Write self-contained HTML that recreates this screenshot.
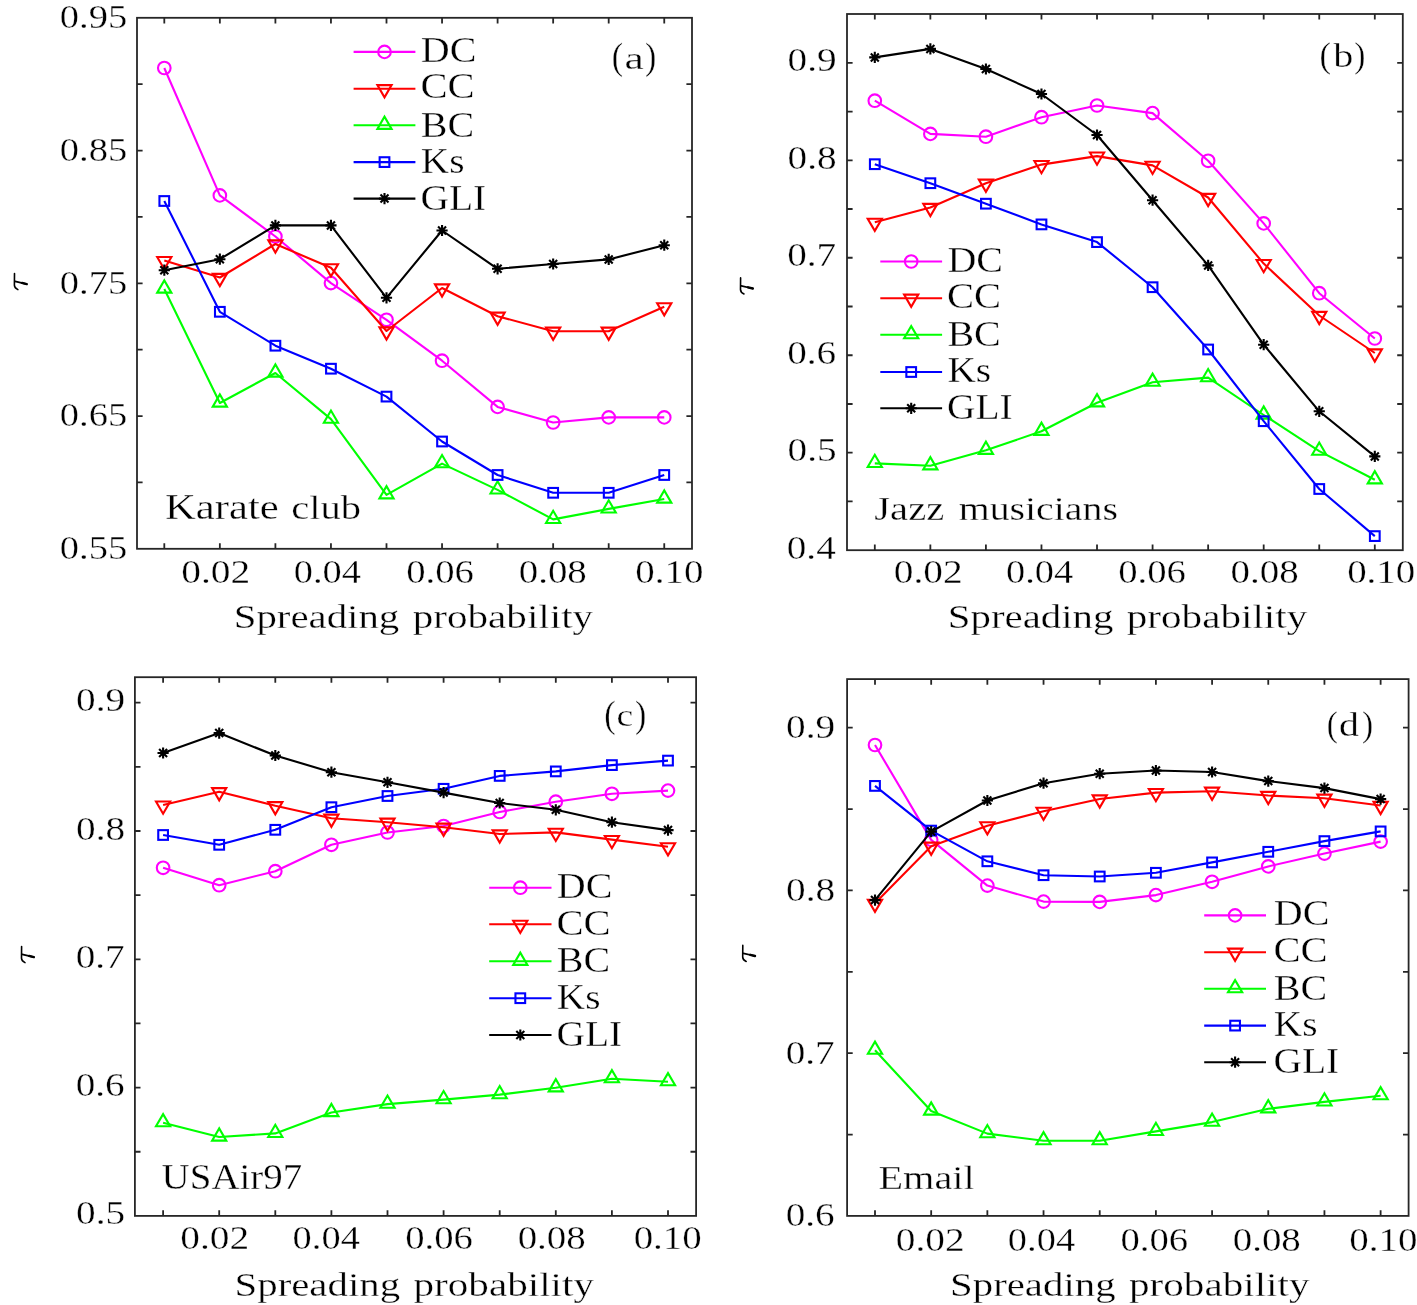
<!DOCTYPE html><html><head><meta charset="utf-8"><title>Spreading probability</title><style>html,body{margin:0;padding:0;background:#fff;}svg{display:block;will-change:transform;}text{font-family:"Liberation Serif",serif;}</style></head><body><svg width="1417" height="1305" viewBox="0 0 1417 1305" font-family="Liberation Serif, serif" fill="#000"><rect x="137" y="17.8" width="555" height="531" fill="none" stroke="#262626" stroke-width="1.8"/>
<path d="M164.3,548.8V543.2M164.3,17.8V23.4M219.85,548.8V543.2M219.85,17.8V23.4M275.4,548.8V543.2M275.4,17.8V23.4M330.95,548.8V543.2M330.95,17.8V23.4M386.5,548.8V543.2M386.5,17.8V23.4M442.05,548.8V543.2M442.05,17.8V23.4M497.6,548.8V543.2M497.6,17.8V23.4M553.15,548.8V543.2M553.15,17.8V23.4M608.7,548.8V543.2M608.7,17.8V23.4M664.25,548.8V543.2M664.25,17.8V23.4M137,482.42H142.6M692,482.42H686.4M137,416.05H142.6M692,416.05H686.4M137,349.67H142.6M692,349.67H686.4M137,283.3H142.6M692,283.3H686.4M137,216.92H142.6M692,216.92H686.4M137,150.55H142.6M692,150.55H686.4M137,84.17H142.6M692,84.17H686.4" stroke="#262626" stroke-width="1.8" fill="none"/>
<polyline points="164.3,68 219.85,195.4 275.4,236.5 330.95,283.1 386.5,319.8 442.05,360.7 497.6,406.9 553.15,422.5 608.7,417.4 664.25,417.4" fill="none" stroke="#ff00ff" stroke-width="2.1" stroke-linejoin="round"/>
<g fill="none" stroke="#ff00ff" stroke-width="2.1" stroke-linejoin="miter"><circle cx="164.3" cy="68" r="6.3"/><circle cx="219.85" cy="195.4" r="6.3"/><circle cx="275.4" cy="236.5" r="6.3"/><circle cx="330.95" cy="283.1" r="6.3"/><circle cx="386.5" cy="319.8" r="6.3"/><circle cx="442.05" cy="360.7" r="6.3"/><circle cx="497.6" cy="406.9" r="6.3"/><circle cx="553.15" cy="422.5" r="6.3"/><circle cx="608.7" cy="417.4" r="6.3"/><circle cx="664.25" cy="417.4" r="6.3"/></g>
<polyline points="164.3,260.6 219.85,277.5 275.4,244 330.95,267.8 386.5,331 442.05,288 497.6,316.2 553.15,331.2 608.7,331.2 664.25,306.8" fill="none" stroke="#ff0000" stroke-width="2.1" stroke-linejoin="round"/>
<g fill="none" stroke="#ff0000" stroke-width="2.1" stroke-linejoin="miter"><path d="M157.2,257H171.4L164.3,269.2Z"/><path d="M212.75,273.9H226.95L219.85,286.1Z"/><path d="M268.3,240.4H282.5L275.4,252.6Z"/><path d="M323.85,264.2H338.05L330.95,276.4Z"/><path d="M379.4,327.4H393.6L386.5,339.6Z"/><path d="M434.95,284.4H449.15L442.05,296.6Z"/><path d="M490.5,312.6H504.7L497.6,324.8Z"/><path d="M546.05,327.6H560.25L553.15,339.8Z"/><path d="M601.6,327.6H615.8L608.7,339.8Z"/><path d="M657.15,303.2H671.35L664.25,315.4Z"/></g>
<polyline points="164.3,289 219.85,403 275.4,373 330.95,419.1 386.5,494.8 442.05,463.6 497.6,489.9 553.15,519.4 608.7,508.9 664.25,499" fill="none" stroke="#00ff00" stroke-width="2.1" stroke-linejoin="round"/>
<g fill="none" stroke="#00ff00" stroke-width="2.1" stroke-linejoin="miter"><path d="M157.2,292.6H171.4L164.3,280.4Z"/><path d="M212.75,406.6H226.95L219.85,394.4Z"/><path d="M268.3,376.6H282.5L275.4,364.4Z"/><path d="M323.85,422.7H338.05L330.95,410.5Z"/><path d="M379.4,498.4H393.6L386.5,486.2Z"/><path d="M434.95,467.2H449.15L442.05,455Z"/><path d="M490.5,493.5H504.7L497.6,481.3Z"/><path d="M546.05,523H560.25L553.15,510.8Z"/><path d="M601.6,512.5H615.8L608.7,500.3Z"/><path d="M657.15,502.6H671.35L664.25,490.4Z"/></g>
<polyline points="164.3,201 219.85,311.8 275.4,345.7 330.95,368.7 386.5,396.6 442.05,441.5 497.6,475 553.15,492.8 608.7,492.8 664.25,475" fill="none" stroke="#0000ff" stroke-width="2.1" stroke-linejoin="round"/>
<g fill="none" stroke="#0000ff" stroke-width="2.1" stroke-linejoin="miter"><rect x="159.45" y="196.15" width="9.7" height="9.7"/><rect x="215" y="306.95" width="9.7" height="9.7"/><rect x="270.55" y="340.85" width="9.7" height="9.7"/><rect x="326.1" y="363.85" width="9.7" height="9.7"/><rect x="381.65" y="391.75" width="9.7" height="9.7"/><rect x="437.2" y="436.65" width="9.7" height="9.7"/><rect x="492.75" y="470.15" width="9.7" height="9.7"/><rect x="548.3" y="487.95" width="9.7" height="9.7"/><rect x="603.85" y="487.95" width="9.7" height="9.7"/><rect x="659.4" y="470.15" width="9.7" height="9.7"/></g>
<polyline points="164.3,270.2 219.85,259.2 275.4,225.4 330.95,225.4 386.5,297.8 442.05,230.5 497.6,268.8 553.15,264 608.7,259.4 664.25,245.2" fill="none" stroke="#000000" stroke-width="2.1" stroke-linejoin="round"/>
<g fill="none" stroke="#000000" stroke-width="2.1" stroke-linejoin="miter"><path d="M164.3,264.6V275.8M158.7,270.2H169.9M160.3,266.2L168.3,274.2M160.3,274.2L168.3,266.2"/><path d="M219.85,253.6V264.8M214.25,259.2H225.45M215.85,255.2L223.85,263.2M215.85,263.2L223.85,255.2"/><path d="M275.4,219.8V231M269.8,225.4H281M271.4,221.4L279.4,229.4M271.4,229.4L279.4,221.4"/><path d="M330.95,219.8V231M325.35,225.4H336.55M326.95,221.4L334.95,229.4M326.95,229.4L334.95,221.4"/><path d="M386.5,292.2V303.4M380.9,297.8H392.1M382.5,293.8L390.5,301.8M382.5,301.8L390.5,293.8"/><path d="M442.05,224.9V236.1M436.45,230.5H447.65M438.05,226.5L446.05,234.5M438.05,234.5L446.05,226.5"/><path d="M497.6,263.2V274.4M492,268.8H503.2M493.6,264.8L501.6,272.8M493.6,272.8L501.6,264.8"/><path d="M553.15,258.4V269.6M547.55,264H558.75M549.15,260L557.15,268M549.15,268L557.15,260"/><path d="M608.7,253.8V265M603.1,259.4H614.3M604.7,255.4L612.7,263.4M604.7,263.4L612.7,255.4"/><path d="M664.25,239.6V250.8M658.65,245.2H669.85M660.25,241.2L668.25,249.2M660.25,249.2L668.25,241.2"/></g>
<path d="M353.6,51.9H415.4" stroke="#ff00ff" stroke-width="2.1"/>
<g fill="none" stroke="#ff00ff" stroke-width="2.1"><circle cx="384.5" cy="51.9" r="6.3"/></g>
<path d="M353.6,88.7H415.4" stroke="#ff0000" stroke-width="2.1"/>
<g fill="none" stroke="#ff0000" stroke-width="2.1"><path d="M377.4,85.1H391.6L384.5,97.3Z"/></g>
<path d="M353.6,125.3H415.4" stroke="#00ff00" stroke-width="2.1"/>
<g fill="none" stroke="#00ff00" stroke-width="2.1"><path d="M377.4,128.9H391.6L384.5,116.7Z"/></g>
<path d="M353.6,162.1H415.4" stroke="#0000ff" stroke-width="2.1"/>
<g fill="none" stroke="#0000ff" stroke-width="2.1"><rect x="379.65" y="157.25" width="9.7" height="9.7"/></g>
<path d="M353.6,198.6H415.4" stroke="#000000" stroke-width="2.1"/>
<g fill="none" stroke="#000000" stroke-width="2.1"><path d="M384.5,193V204.2M378.9,198.6H390.1M380.5,194.6L388.5,202.6M380.5,202.6L388.5,194.6"/></g>
<text transform="translate(59.760,28.207) scale(0.38503,0.34627)" font-size="100" stroke="#fff" stroke-width="0.957">0.95</text>
<text transform="translate(59.760,160.957) scale(0.38503,0.34627)" font-size="100" stroke="#fff" stroke-width="0.957">0.85</text>
<text transform="translate(59.760,293.707) scale(0.38503,0.34627)" font-size="100" stroke="#fff" stroke-width="0.957">0.75</text>
<text transform="translate(59.760,426.457) scale(0.38503,0.34627)" font-size="100" stroke="#fff" stroke-width="0.957">0.65</text>
<text transform="translate(59.760,559.207) scale(0.38503,0.34627)" font-size="100" stroke="#fff" stroke-width="0.957">0.55</text>
<text transform="translate(181.224,582.510) scale(0.39394,0.34478)" font-size="100" stroke="#fff" stroke-width="0.948">0.02</text>
<text transform="translate(293.762,582.510) scale(0.38462,0.34478)" font-size="100" stroke="#fff" stroke-width="0.960">0.04</text>
<text transform="translate(406.152,582.510) scale(0.38690,0.34478)" font-size="100" stroke="#fff" stroke-width="0.957">0.06</text>
<text transform="translate(518.743,582.510) scale(0.38922,0.34478)" font-size="100" stroke="#fff" stroke-width="0.954">0.08</text>
<text transform="translate(635.343,582.521) scale(0.38922,0.33971)" font-size="100" stroke="#fff" stroke-width="0.960">0.10</text>
<text transform="translate(233.742,627.823) scale(0.40831,0.33222)" font-size="100" stroke="#fff" stroke-width="0.945">Spreading</text>
<text transform="translate(412.677,627.847) scale(0.41147,0.33111)" font-size="100" stroke="#fff" stroke-width="0.943">probability</text>
<text transform="translate(164.918,519.047) scale(0.42731,0.35303)" font-size="100" stroke="#fff" stroke-width="0.897">Karate</text>
<text transform="translate(291.178,519.057) scale(0.40549,0.34286)" font-size="100" stroke="#fff" stroke-width="0.935">club</text>
<text transform="translate(611.731,69.043) scale(0.34231,0.37889)" font-size="100" stroke="#fff" stroke-width="0.971">(</text>
<text transform="translate(644.985,69.043) scale(0.33846,0.37889)" font-size="100" stroke="#fff" stroke-width="0.976">)</text>
<text transform="translate(624.456,68.775) scale(0.43590,0.32500)" font-size="100" stroke="#fff" stroke-width="0.920">a</text>
<text transform="translate(420.800,61.878) scale(0.40000,0.36119)" font-size="100" stroke="#fff" stroke-width="0.920">DC</text>
<text transform="translate(420.377,98.478) scale(0.40565,0.36119)" font-size="100" stroke="#fff" stroke-width="0.913">CC</text>
<text transform="translate(420.800,136.578) scale(0.40000,0.36119)" font-size="100" stroke="#fff" stroke-width="0.920">BC</text>
<text transform="translate(420.820,172.747) scale(0.39333,0.35303)" font-size="100" stroke="#fff" stroke-width="0.938">Ks</text>
<text transform="translate(420.423,209.678) scale(0.39434,0.36119)" font-size="100" stroke="#fff" stroke-width="0.926">GLI</text>
<g fill="none" stroke="#000" stroke-linecap="round"><path d="M14.5,273.5L14.4,285.2Q14.5,288 17.9,289.6" stroke-width="1.6"/><path d="M15.1,281.4L26.7,284.1" stroke-width="1.7"/><path d="M22,282.9L26.7,284.1" stroke-width="2.4"/></g>
<rect x="847" y="14" width="555.8" height="536.2" fill="none" stroke="#262626" stroke-width="1.8"/>
<path d="M874.8,550.2V544.6M874.8,14V19.6M930.36,550.2V544.6M930.36,14V19.6M985.91,550.2V544.6M985.91,14V19.6M1041.47,550.2V544.6M1041.47,14V19.6M1097.02,550.2V544.6M1097.02,14V19.6M1152.58,550.2V544.6M1152.58,14V19.6M1208.14,550.2V544.6M1208.14,14V19.6M1263.69,550.2V544.6M1263.69,14V19.6M1319.25,550.2V544.6M1319.25,14V19.6M1374.8,550.2V544.6M1374.8,14V19.6M847,501.46H852.6M1402.8,501.46H1397.2M847,452.72H852.6M1402.8,452.72H1397.2M847,403.98H852.6M1402.8,403.98H1397.2M847,355.24H852.6M1402.8,355.24H1397.2M847,306.5H852.6M1402.8,306.5H1397.2M847,257.76H852.6M1402.8,257.76H1397.2M847,209.02H852.6M1402.8,209.02H1397.2M847,160.28H852.6M1402.8,160.28H1397.2M847,111.54H852.6M1402.8,111.54H1397.2M847,62.8H852.6M1402.8,62.8H1397.2" stroke="#262626" stroke-width="1.8" fill="none"/>
<polyline points="874.8,100.7 930.36,133.9 985.91,136.7 1041.47,117.2 1097.02,105.5 1152.58,113.1 1208.14,160.8 1263.69,223.4 1319.25,293.2 1374.8,338.5" fill="none" stroke="#ff00ff" stroke-width="2.1" stroke-linejoin="round"/>
<g fill="none" stroke="#ff00ff" stroke-width="2.1" stroke-linejoin="miter"><circle cx="874.8" cy="100.7" r="6.3"/><circle cx="930.36" cy="133.9" r="6.3"/><circle cx="985.91" cy="136.7" r="6.3"/><circle cx="1041.47" cy="117.2" r="6.3"/><circle cx="1097.02" cy="105.5" r="6.3"/><circle cx="1152.58" cy="113.1" r="6.3"/><circle cx="1208.14" cy="160.8" r="6.3"/><circle cx="1263.69" cy="223.4" r="6.3"/><circle cx="1319.25" cy="293.2" r="6.3"/><circle cx="1374.8" cy="338.5" r="6.3"/></g>
<polyline points="874.8,222.3 930.36,207.5 985.91,183.2 1041.47,164.6 1097.02,156.1 1152.58,165.4 1208.14,197.5 1263.69,263.6 1319.25,315.5 1374.8,353" fill="none" stroke="#ff0000" stroke-width="2.1" stroke-linejoin="round"/>
<g fill="none" stroke="#ff0000" stroke-width="2.1" stroke-linejoin="miter"><path d="M867.7,218.7H881.9L874.8,230.9Z"/><path d="M923.26,203.9H937.46L930.36,216.1Z"/><path d="M978.81,179.6H993.01L985.91,191.8Z"/><path d="M1034.37,161H1048.57L1041.47,173.2Z"/><path d="M1089.92,152.5H1104.12L1097.02,164.7Z"/><path d="M1145.48,161.8H1159.68L1152.58,174Z"/><path d="M1201.04,193.9H1215.24L1208.14,206.1Z"/><path d="M1256.59,260H1270.79L1263.69,272.2Z"/><path d="M1312.15,311.9H1326.35L1319.25,324.1Z"/><path d="M1367.7,349.4H1381.9L1374.8,361.6Z"/></g>
<polyline points="874.8,463.4 930.36,465.8 985.91,450.3 1041.47,431.3 1097.02,402.8 1152.58,382.2 1208.14,377.6 1263.69,415 1319.25,451.1 1374.8,479.8" fill="none" stroke="#00ff00" stroke-width="2.1" stroke-linejoin="round"/>
<g fill="none" stroke="#00ff00" stroke-width="2.1" stroke-linejoin="miter"><path d="M867.7,467H881.9L874.8,454.8Z"/><path d="M923.26,469.4H937.46L930.36,457.2Z"/><path d="M978.81,453.9H993.01L985.91,441.7Z"/><path d="M1034.37,434.9H1048.57L1041.47,422.7Z"/><path d="M1089.92,406.4H1104.12L1097.02,394.2Z"/><path d="M1145.48,385.8H1159.68L1152.58,373.6Z"/><path d="M1201.04,381.2H1215.24L1208.14,369Z"/><path d="M1256.59,418.6H1270.79L1263.69,406.4Z"/><path d="M1312.15,454.7H1326.35L1319.25,442.5Z"/><path d="M1367.7,483.4H1381.9L1374.8,471.2Z"/></g>
<polyline points="874.8,164.2 930.36,183.2 985.91,203.7 1041.47,224.4 1097.02,242.1 1152.58,287.2 1208.14,349.5 1263.69,421.2 1319.25,489 1374.8,536.1" fill="none" stroke="#0000ff" stroke-width="2.1" stroke-linejoin="round"/>
<g fill="none" stroke="#0000ff" stroke-width="2.1" stroke-linejoin="miter"><rect x="869.95" y="159.35" width="9.7" height="9.7"/><rect x="925.51" y="178.35" width="9.7" height="9.7"/><rect x="981.06" y="198.85" width="9.7" height="9.7"/><rect x="1036.62" y="219.55" width="9.7" height="9.7"/><rect x="1092.17" y="237.25" width="9.7" height="9.7"/><rect x="1147.73" y="282.35" width="9.7" height="9.7"/><rect x="1203.29" y="344.65" width="9.7" height="9.7"/><rect x="1258.84" y="416.35" width="9.7" height="9.7"/><rect x="1314.4" y="484.15" width="9.7" height="9.7"/><rect x="1369.95" y="531.25" width="9.7" height="9.7"/></g>
<polyline points="874.8,57.4 930.36,48.9 985.91,69 1041.47,94 1097.02,135 1152.58,200.2 1208.14,265.4 1263.69,344.7 1319.25,411.3 1374.8,456.4" fill="none" stroke="#000000" stroke-width="2.1" stroke-linejoin="round"/>
<g fill="none" stroke="#000000" stroke-width="2.1" stroke-linejoin="miter"><path d="M874.8,51.8V63M869.2,57.4H880.4M870.8,53.4L878.8,61.4M870.8,61.4L878.8,53.4"/><path d="M930.36,43.3V54.5M924.76,48.9H935.96M926.36,44.9L934.36,52.9M926.36,52.9L934.36,44.9"/><path d="M985.91,63.4V74.6M980.31,69H991.51M981.91,65L989.91,73M981.91,73L989.91,65"/><path d="M1041.47,88.4V99.6M1035.87,94H1047.07M1037.47,90L1045.47,98M1037.47,98L1045.47,90"/><path d="M1097.02,129.4V140.6M1091.42,135H1102.62M1093.02,131L1101.02,139M1093.02,139L1101.02,131"/><path d="M1152.58,194.6V205.8M1146.98,200.2H1158.18M1148.58,196.2L1156.58,204.2M1148.58,204.2L1156.58,196.2"/><path d="M1208.14,259.8V271M1202.54,265.4H1213.74M1204.14,261.4L1212.14,269.4M1204.14,269.4L1212.14,261.4"/><path d="M1263.69,339.1V350.3M1258.09,344.7H1269.29M1259.69,340.7L1267.69,348.7M1259.69,348.7L1267.69,340.7"/><path d="M1319.25,405.7V416.9M1313.65,411.3H1324.85M1315.25,407.3L1323.25,415.3M1315.25,415.3L1323.25,407.3"/><path d="M1374.8,450.8V462M1369.2,456.4H1380.4M1370.8,452.4L1378.8,460.4M1370.8,460.4L1378.8,452.4"/></g>
<path d="M880.3,261.5H942.1" stroke="#ff00ff" stroke-width="2.1"/>
<g fill="none" stroke="#ff00ff" stroke-width="2.1"><circle cx="911.2" cy="261.5" r="6.3"/></g>
<path d="M880.3,298.2H942.1" stroke="#ff0000" stroke-width="2.1"/>
<g fill="none" stroke="#ff0000" stroke-width="2.1"><path d="M904.1,294.6H918.3L911.2,306.8Z"/></g>
<path d="M880.3,334.7H942.1" stroke="#00ff00" stroke-width="2.1"/>
<g fill="none" stroke="#00ff00" stroke-width="2.1"><path d="M904.1,338.3H918.3L911.2,326.1Z"/></g>
<path d="M880.3,372H942.1" stroke="#0000ff" stroke-width="2.1"/>
<g fill="none" stroke="#0000ff" stroke-width="2.1"><rect x="906.35" y="367.15" width="9.7" height="9.7"/></g>
<path d="M880.3,408.3H942.1" stroke="#000000" stroke-width="2.1"/>
<g fill="none" stroke="#000000" stroke-width="2.1"><path d="M911.2,402.7V413.9M905.6,408.3H916.8M907.2,404.3L915.2,412.3M907.2,412.3L915.2,404.3"/></g>
<text transform="translate(787.531,71.360) scale(0.39231,0.34478)" font-size="100" stroke="#fff" stroke-width="0.950">0.9</text>
<text transform="translate(787.531,168.840) scale(0.39231,0.34478)" font-size="100" stroke="#fff" stroke-width="0.950">0.8</text>
<text transform="translate(787.138,266.320) scale(0.39231,0.34478)" font-size="100" stroke="#fff" stroke-width="0.950">0.7</text>
<text transform="translate(787.138,363.800) scale(0.39231,0.34478)" font-size="100" stroke="#fff" stroke-width="0.950">0.6</text>
<text transform="translate(787.531,461.280) scale(0.39231,0.34478)" font-size="100" stroke="#fff" stroke-width="0.950">0.5</text>
<text transform="translate(786.746,558.760) scale(0.39231,0.34478)" font-size="100" stroke="#fff" stroke-width="0.950">0.4</text>
<text transform="translate(893.824,582.516) scale(0.39394,0.34179)" font-size="100" stroke="#fff" stroke-width="0.951">0.02</text>
<text transform="translate(1005.962,582.516) scale(0.38462,0.34179)" font-size="100" stroke="#fff" stroke-width="0.964">0.04</text>
<text transform="translate(1118.152,582.516) scale(0.38690,0.34179)" font-size="100" stroke="#fff" stroke-width="0.961">0.06</text>
<text transform="translate(1230.543,582.516) scale(0.38922,0.34179)" font-size="100" stroke="#fff" stroke-width="0.958">0.08</text>
<text transform="translate(1347.143,582.526) scale(0.38922,0.33676)" font-size="100" stroke="#fff" stroke-width="0.964">0.10</text>
<text transform="translate(947.842,628.277) scale(0.40831,0.33444)" font-size="100" stroke="#fff" stroke-width="0.942">Spreading</text>
<text transform="translate(1126.777,628.300) scale(0.41147,0.33333)" font-size="100" stroke="#fff" stroke-width="0.940">probability</text>
<text transform="translate(874.287,519.659) scale(0.40659,0.34091)" font-size="100" stroke="#fff" stroke-width="0.936">Jazz</text>
<text transform="translate(958.704,519.962) scale(0.39822,0.33788)" font-size="100" stroke="#fff" stroke-width="0.951">musicians</text>
<text transform="translate(1319.615,67.277) scale(0.34615,0.36778)" font-size="100" stroke="#fff" stroke-width="0.980">(</text>
<text transform="translate(1354.196,67.277) scale(0.33462,0.36778)" font-size="100" stroke="#fff" stroke-width="0.997">)</text>
<text transform="translate(1333.200,66.866) scale(0.40217,0.33429)" font-size="100" stroke="#fff" stroke-width="0.950">b</text>
<text transform="translate(947.400,271.578) scale(0.40000,0.36119)" font-size="100" stroke="#fff" stroke-width="0.920">DC</text>
<text transform="translate(946.977,308.178) scale(0.40565,0.36119)" font-size="100" stroke="#fff" stroke-width="0.913">CC</text>
<text transform="translate(947.400,345.978) scale(0.40000,0.36119)" font-size="100" stroke="#fff" stroke-width="0.920">BC</text>
<text transform="translate(947.420,382.347) scale(0.39333,0.35303)" font-size="100" stroke="#fff" stroke-width="0.938">Ks</text>
<text transform="translate(947.023,418.778) scale(0.39434,0.36119)" font-size="100" stroke="#fff" stroke-width="0.926">GLI</text>
<g fill="none" stroke="#000" stroke-linecap="round"><path d="M740.6,277.9L740.5,289.6Q740.6,292.4 744,294" stroke-width="1.6"/><path d="M741.2,285.8L752.8,288.5" stroke-width="1.7"/><path d="M748.1,287.3L752.8,288.5" stroke-width="2.4"/></g>
<rect x="134.9" y="677.2" width="561.2" height="538.7" fill="none" stroke="#262626" stroke-width="1.8"/>
<path d="M163.1,1215.9V1210.3M163.1,677.2V682.8M219.2,1215.9V1210.3M219.2,677.2V682.8M275.3,1215.9V1210.3M275.3,677.2V682.8M331.4,1215.9V1210.3M331.4,677.2V682.8M387.5,1215.9V1210.3M387.5,677.2V682.8M443.6,1215.9V1210.3M443.6,677.2V682.8M499.7,1215.9V1210.3M499.7,677.2V682.8M555.8,1215.9V1210.3M555.8,677.2V682.8M611.9,1215.9V1210.3M611.9,677.2V682.8M668,1215.9V1210.3M668,677.2V682.8M134.9,1151.75H140.5M696.1,1151.75H690.5M134.9,1087.6H140.5M696.1,1087.6H690.5M134.9,1023.45H140.5M696.1,1023.45H690.5M134.9,959.3H140.5M696.1,959.3H690.5M134.9,895.15H140.5M696.1,895.15H690.5M134.9,831H140.5M696.1,831H690.5M134.9,766.85H140.5M696.1,766.85H690.5M134.9,702.7H140.5M696.1,702.7H690.5" stroke="#262626" stroke-width="1.8" fill="none"/>
<polyline points="163.1,867.8 219.2,885.2 275.3,871.2 331.4,844.8 387.5,832.5 443.6,826 499.7,812 555.8,801.7 611.9,793.8 668,790.6" fill="none" stroke="#ff00ff" stroke-width="2.1" stroke-linejoin="round"/>
<g fill="none" stroke="#ff00ff" stroke-width="2.1" stroke-linejoin="miter"><circle cx="163.1" cy="867.8" r="6.3"/><circle cx="219.2" cy="885.2" r="6.3"/><circle cx="275.3" cy="871.2" r="6.3"/><circle cx="331.4" cy="844.8" r="6.3"/><circle cx="387.5" cy="832.5" r="6.3"/><circle cx="443.6" cy="826" r="6.3"/><circle cx="499.7" cy="812" r="6.3"/><circle cx="555.8" cy="801.7" r="6.3"/><circle cx="611.9" cy="793.8" r="6.3"/><circle cx="668" cy="790.6" r="6.3"/></g>
<polyline points="163.1,805.1 219.2,791.7 275.3,805.7 331.4,818.2 387.5,822.2 443.6,827.2 499.7,834 555.8,832.4 611.9,839.6 668,846.8" fill="none" stroke="#ff0000" stroke-width="2.1" stroke-linejoin="round"/>
<g fill="none" stroke="#ff0000" stroke-width="2.1" stroke-linejoin="miter"><path d="M156,801.5H170.2L163.1,813.7Z"/><path d="M212.1,788.1H226.3L219.2,800.3Z"/><path d="M268.2,802.1H282.4L275.3,814.3Z"/><path d="M324.3,814.6H338.5L331.4,826.8Z"/><path d="M380.4,818.6H394.6L387.5,830.8Z"/><path d="M436.5,823.6H450.7L443.6,835.8Z"/><path d="M492.6,830.4H506.8L499.7,842.6Z"/><path d="M548.7,828.8H562.9L555.8,841Z"/><path d="M604.8,836H619L611.9,848.2Z"/><path d="M660.9,843.2H675.1L668,855.4Z"/></g>
<polyline points="163.1,1122.7 219.2,1137 275.3,1133.4 331.4,1112.5 387.5,1104.1 443.6,1099.6 499.7,1094.6 555.8,1087.8 611.9,1078.7 668,1081.7" fill="none" stroke="#00ff00" stroke-width="2.1" stroke-linejoin="round"/>
<g fill="none" stroke="#00ff00" stroke-width="2.1" stroke-linejoin="miter"><path d="M156,1126.3H170.2L163.1,1114.1Z"/><path d="M212.1,1140.6H226.3L219.2,1128.4Z"/><path d="M268.2,1137H282.4L275.3,1124.8Z"/><path d="M324.3,1116.1H338.5L331.4,1103.9Z"/><path d="M380.4,1107.7H394.6L387.5,1095.5Z"/><path d="M436.5,1103.2H450.7L443.6,1091Z"/><path d="M492.6,1098.2H506.8L499.7,1086Z"/><path d="M548.7,1091.4H562.9L555.8,1079.2Z"/><path d="M604.8,1082.3H619L611.9,1070.1Z"/><path d="M660.9,1085.3H675.1L668,1073.1Z"/></g>
<polyline points="163.1,835 219.2,844.8 275.3,829.8 331.4,807.2 387.5,796 443.6,788.8 499.7,775.9 555.8,771.4 611.9,765.1 668,760.6" fill="none" stroke="#0000ff" stroke-width="2.1" stroke-linejoin="round"/>
<g fill="none" stroke="#0000ff" stroke-width="2.1" stroke-linejoin="miter"><rect x="158.25" y="830.15" width="9.7" height="9.7"/><rect x="214.35" y="839.95" width="9.7" height="9.7"/><rect x="270.45" y="824.95" width="9.7" height="9.7"/><rect x="326.55" y="802.35" width="9.7" height="9.7"/><rect x="382.65" y="791.15" width="9.7" height="9.7"/><rect x="438.75" y="783.95" width="9.7" height="9.7"/><rect x="494.85" y="771.05" width="9.7" height="9.7"/><rect x="550.95" y="766.55" width="9.7" height="9.7"/><rect x="607.05" y="760.25" width="9.7" height="9.7"/><rect x="663.15" y="755.75" width="9.7" height="9.7"/></g>
<polyline points="163.1,753 219.2,733.1 275.3,755.5 331.4,772.2 387.5,782.3 443.6,792.6 499.7,803 555.8,809.8 611.9,822.2 668,830.1" fill="none" stroke="#000000" stroke-width="2.1" stroke-linejoin="round"/>
<g fill="none" stroke="#000000" stroke-width="2.1" stroke-linejoin="miter"><path d="M163.1,747.4V758.6M157.5,753H168.7M159.1,749L167.1,757M159.1,757L167.1,749"/><path d="M219.2,727.5V738.7M213.6,733.1H224.8M215.2,729.1L223.2,737.1M215.2,737.1L223.2,729.1"/><path d="M275.3,749.9V761.1M269.7,755.5H280.9M271.3,751.5L279.3,759.5M271.3,759.5L279.3,751.5"/><path d="M331.4,766.6V777.8M325.8,772.2H337M327.4,768.2L335.4,776.2M327.4,776.2L335.4,768.2"/><path d="M387.5,776.7V787.9M381.9,782.3H393.1M383.5,778.3L391.5,786.3M383.5,786.3L391.5,778.3"/><path d="M443.6,787V798.2M438,792.6H449.2M439.6,788.6L447.6,796.6M439.6,796.6L447.6,788.6"/><path d="M499.7,797.4V808.6M494.1,803H505.3M495.7,799L503.7,807M495.7,807L503.7,799"/><path d="M555.8,804.2V815.4M550.2,809.8H561.4M551.8,805.8L559.8,813.8M551.8,813.8L559.8,805.8"/><path d="M611.9,816.6V827.8M606.3,822.2H617.5M607.9,818.2L615.9,826.2M607.9,826.2L615.9,818.2"/><path d="M668,824.5V835.7M662.4,830.1H673.6M664,826.1L672,834.1M664,834.1L672,826.1"/></g>
<path d="M489.2,887.7H551.5" stroke="#ff00ff" stroke-width="2.1"/>
<g fill="none" stroke="#ff00ff" stroke-width="2.1"><circle cx="520.3" cy="887.7" r="6.3"/></g>
<path d="M489.2,924.3H551.5" stroke="#ff0000" stroke-width="2.1"/>
<g fill="none" stroke="#ff0000" stroke-width="2.1"><path d="M513.2,920.7H527.4L520.3,932.9Z"/></g>
<path d="M489.2,961.3H551.5" stroke="#00ff00" stroke-width="2.1"/>
<g fill="none" stroke="#00ff00" stroke-width="2.1"><path d="M513.2,964.9H527.4L520.3,952.7Z"/></g>
<path d="M489.2,998.2H551.5" stroke="#0000ff" stroke-width="2.1"/>
<g fill="none" stroke="#0000ff" stroke-width="2.1"><rect x="515.45" y="993.35" width="9.7" height="9.7"/></g>
<path d="M489.2,1035H551.5" stroke="#000000" stroke-width="2.1"/>
<g fill="none" stroke="#000000" stroke-width="2.1"><path d="M520.3,1029.4V1040.6M514.7,1035H525.9M516.3,1031L524.3,1039M516.3,1039L524.3,1031"/></g>
<text transform="translate(76.031,711.260) scale(0.39231,0.34478)" font-size="100" stroke="#fff" stroke-width="0.950">0.9</text>
<text transform="translate(76.031,839.560) scale(0.39231,0.34478)" font-size="100" stroke="#fff" stroke-width="0.950">0.8</text>
<text transform="translate(75.638,967.860) scale(0.39231,0.34478)" font-size="100" stroke="#fff" stroke-width="0.950">0.7</text>
<text transform="translate(75.638,1096.160) scale(0.39231,0.34478)" font-size="100" stroke="#fff" stroke-width="0.950">0.6</text>
<text transform="translate(76.031,1224.460) scale(0.39231,0.34478)" font-size="100" stroke="#fff" stroke-width="0.950">0.5</text>
<text transform="translate(180.324,1249.116) scale(0.39394,0.34179)" font-size="100" stroke="#fff" stroke-width="0.951">0.02</text>
<text transform="translate(292.562,1249.116) scale(0.38462,0.34179)" font-size="100" stroke="#fff" stroke-width="0.964">0.04</text>
<text transform="translate(405.152,1249.116) scale(0.38690,0.34179)" font-size="100" stroke="#fff" stroke-width="0.961">0.06</text>
<text transform="translate(517.643,1249.116) scale(0.38922,0.34179)" font-size="100" stroke="#fff" stroke-width="0.958">0.08</text>
<text transform="translate(633.643,1249.126) scale(0.38922,0.33676)" font-size="100" stroke="#fff" stroke-width="0.964">0.10</text>
<text transform="translate(234.542,1295.977) scale(0.40831,0.33444)" font-size="100" stroke="#fff" stroke-width="0.942">Spreading</text>
<text transform="translate(413.477,1296.000) scale(0.41147,0.33333)" font-size="100" stroke="#fff" stroke-width="0.940">probability</text>
<text transform="translate(161.621,1188.782) scale(0.38933,0.35882)" font-size="100" stroke="#fff" stroke-width="0.936">USAir97</text>
<text transform="translate(604.231,727.253) scale(0.34231,0.36889)" font-size="100" stroke="#fff" stroke-width="0.984">(</text>
<text transform="translate(634.885,727.253) scale(0.33846,0.36889)" font-size="100" stroke="#fff" stroke-width="0.990">)</text>
<text transform="translate(616.597,726.490) scale(0.37568,0.31042)" font-size="100" stroke="#fff" stroke-width="1.020">c</text>
<text transform="translate(556.800,897.778) scale(0.40000,0.36119)" font-size="100" stroke="#fff" stroke-width="0.920">DC</text>
<text transform="translate(556.377,934.878) scale(0.40565,0.36119)" font-size="100" stroke="#fff" stroke-width="0.913">CC</text>
<text transform="translate(556.800,971.778) scale(0.40000,0.36119)" font-size="100" stroke="#fff" stroke-width="0.920">BC</text>
<text transform="translate(556.820,1008.847) scale(0.39333,0.35303)" font-size="100" stroke="#fff" stroke-width="0.938">Ks</text>
<text transform="translate(556.423,1045.778) scale(0.39434,0.36119)" font-size="100" stroke="#fff" stroke-width="0.926">GLI</text>
<g fill="none" stroke="#000" stroke-linecap="round"><path d="M21.6,946.5L21.5,958.2Q21.6,961 25,962.6" stroke-width="1.6"/><path d="M22.2,954.4L33.8,957.1" stroke-width="1.7"/><path d="M29.1,955.9L33.8,957.1" stroke-width="2.4"/></g>
<rect x="847.1" y="679.1" width="561.5" height="536.8" fill="none" stroke="#262626" stroke-width="1.8"/>
<path d="M875,1215.9V1210.3M875,679.1V684.7M931.18,1215.9V1210.3M931.18,679.1V684.7M987.36,1215.9V1210.3M987.36,679.1V684.7M1043.54,1215.9V1210.3M1043.54,679.1V684.7M1099.72,1215.9V1210.3M1099.72,679.1V684.7M1155.9,1215.9V1210.3M1155.9,679.1V684.7M1212.08,1215.9V1210.3M1212.08,679.1V684.7M1268.26,1215.9V1210.3M1268.26,679.1V684.7M1324.44,1215.9V1210.3M1324.44,679.1V684.7M1380.62,1215.9V1210.3M1380.62,679.1V684.7M847.1,1134.54H852.7M1408.6,1134.54H1403M847.1,1053.17H852.7M1408.6,1053.17H1403M847.1,971.81H852.7M1408.6,971.81H1403M847.1,890.44H852.7M1408.6,890.44H1403M847.1,809.08H852.7M1408.6,809.08H1403M847.1,727.71H852.7M1408.6,727.71H1403" stroke="#262626" stroke-width="1.8" fill="none"/>
<polyline points="875,745 931.18,839.9 987.36,885.6 1043.54,901.6 1099.72,901.9 1155.9,895.1 1212.08,881.8 1268.26,866.4 1324.44,853.6 1380.62,841.6" fill="none" stroke="#ff00ff" stroke-width="2.1" stroke-linejoin="round"/>
<g fill="none" stroke="#ff00ff" stroke-width="2.1" stroke-linejoin="miter"><circle cx="875" cy="745" r="6.3"/><circle cx="931.18" cy="839.9" r="6.3"/><circle cx="987.36" cy="885.6" r="6.3"/><circle cx="1043.54" cy="901.6" r="6.3"/><circle cx="1099.72" cy="901.9" r="6.3"/><circle cx="1155.9" cy="895.1" r="6.3"/><circle cx="1212.08" cy="881.8" r="6.3"/><circle cx="1268.26" cy="866.4" r="6.3"/><circle cx="1324.44" cy="853.6" r="6.3"/><circle cx="1380.62" cy="841.6" r="6.3"/></g>
<polyline points="875,903.3 931.18,846.2 987.36,825.8 1043.54,811.3 1099.72,799 1155.9,792.6 1212.08,791.2 1268.26,795.5 1324.44,798.2 1380.62,805.5" fill="none" stroke="#ff0000" stroke-width="2.1" stroke-linejoin="round"/>
<g fill="none" stroke="#ff0000" stroke-width="2.1" stroke-linejoin="miter"><path d="M867.9,899.7H882.1L875,911.9Z"/><path d="M924.08,842.6H938.28L931.18,854.8Z"/><path d="M980.26,822.2H994.46L987.36,834.4Z"/><path d="M1036.44,807.7H1050.64L1043.54,819.9Z"/><path d="M1092.62,795.4H1106.82L1099.72,807.6Z"/><path d="M1148.8,789H1163L1155.9,801.2Z"/><path d="M1204.98,787.6H1219.18L1212.08,799.8Z"/><path d="M1261.16,791.9H1275.36L1268.26,804.1Z"/><path d="M1317.34,794.6H1331.54L1324.44,806.8Z"/><path d="M1373.52,801.9H1387.72L1380.62,814.1Z"/></g>
<polyline points="875,1050.2 931.18,1111 987.36,1133.6 1043.54,1140.7 1099.72,1140.7 1155.9,1131.4 1212.08,1122.1 1268.26,1108.8 1324.44,1101.9 1380.62,1095.7" fill="none" stroke="#00ff00" stroke-width="2.1" stroke-linejoin="round"/>
<g fill="none" stroke="#00ff00" stroke-width="2.1" stroke-linejoin="miter"><path d="M867.9,1053.8H882.1L875,1041.6Z"/><path d="M924.08,1114.6H938.28L931.18,1102.4Z"/><path d="M980.26,1137.2H994.46L987.36,1125Z"/><path d="M1036.44,1144.3H1050.64L1043.54,1132.1Z"/><path d="M1092.62,1144.3H1106.82L1099.72,1132.1Z"/><path d="M1148.8,1135H1163L1155.9,1122.8Z"/><path d="M1204.98,1125.7H1219.18L1212.08,1113.5Z"/><path d="M1261.16,1112.4H1275.36L1268.26,1100.2Z"/><path d="M1317.34,1105.5H1331.54L1324.44,1093.3Z"/><path d="M1373.52,1099.3H1387.72L1380.62,1087.1Z"/></g>
<polyline points="875,785.9 931.18,830.6 987.36,861.3 1043.54,875.2 1099.72,876.5 1155.9,872.8 1212.08,862.4 1268.26,851.8 1324.44,841.1 1380.62,831.4" fill="none" stroke="#0000ff" stroke-width="2.1" stroke-linejoin="round"/>
<g fill="none" stroke="#0000ff" stroke-width="2.1" stroke-linejoin="miter"><rect x="870.15" y="781.05" width="9.7" height="9.7"/><rect x="926.33" y="825.75" width="9.7" height="9.7"/><rect x="982.51" y="856.45" width="9.7" height="9.7"/><rect x="1038.69" y="870.35" width="9.7" height="9.7"/><rect x="1094.87" y="871.65" width="9.7" height="9.7"/><rect x="1151.05" y="867.95" width="9.7" height="9.7"/><rect x="1207.23" y="857.55" width="9.7" height="9.7"/><rect x="1263.41" y="846.95" width="9.7" height="9.7"/><rect x="1319.59" y="836.25" width="9.7" height="9.7"/><rect x="1375.77" y="826.55" width="9.7" height="9.7"/></g>
<polyline points="875,900.1 931.18,831.6 987.36,800.5 1043.54,783.2 1099.72,773.7 1155.9,770.5 1212.08,772 1268.26,781.1 1324.44,788.1 1380.62,799.1" fill="none" stroke="#000000" stroke-width="2.1" stroke-linejoin="round"/>
<g fill="none" stroke="#000000" stroke-width="2.1" stroke-linejoin="miter"><path d="M875,894.5V905.7M869.4,900.1H880.6M871,896.1L879,904.1M871,904.1L879,896.1"/><path d="M931.18,826V837.2M925.58,831.6H936.78M927.18,827.6L935.18,835.6M927.18,835.6L935.18,827.6"/><path d="M987.36,794.9V806.1M981.76,800.5H992.96M983.36,796.5L991.36,804.5M983.36,804.5L991.36,796.5"/><path d="M1043.54,777.6V788.8M1037.94,783.2H1049.14M1039.54,779.2L1047.54,787.2M1039.54,787.2L1047.54,779.2"/><path d="M1099.72,768.1V779.3M1094.12,773.7H1105.32M1095.72,769.7L1103.72,777.7M1095.72,777.7L1103.72,769.7"/><path d="M1155.9,764.9V776.1M1150.3,770.5H1161.5M1151.9,766.5L1159.9,774.5M1151.9,774.5L1159.9,766.5"/><path d="M1212.08,766.4V777.6M1206.48,772H1217.68M1208.08,768L1216.08,776M1208.08,776L1216.08,768"/><path d="M1268.26,775.5V786.7M1262.66,781.1H1273.86M1264.26,777.1L1272.26,785.1M1264.26,785.1L1272.26,777.1"/><path d="M1324.44,782.5V793.7M1318.84,788.1H1330.04M1320.44,784.1L1328.44,792.1M1320.44,792.1L1328.44,784.1"/><path d="M1380.62,793.5V804.7M1375.02,799.1H1386.22M1376.62,795.1L1384.62,803.1M1376.62,803.1L1384.62,795.1"/></g>
<path d="M1204.2,915.4H1266" stroke="#ff00ff" stroke-width="2.1"/>
<g fill="none" stroke="#ff00ff" stroke-width="2.1"><circle cx="1235.1" cy="915.4" r="6.3"/></g>
<path d="M1204.2,952.2H1266" stroke="#ff0000" stroke-width="2.1"/>
<g fill="none" stroke="#ff0000" stroke-width="2.1"><path d="M1228,948.6H1242.2L1235.1,960.8Z"/></g>
<path d="M1204.2,988.7H1266" stroke="#00ff00" stroke-width="2.1"/>
<g fill="none" stroke="#00ff00" stroke-width="2.1"><path d="M1228,992.3H1242.2L1235.1,980.1Z"/></g>
<path d="M1204.2,1025.6H1266" stroke="#0000ff" stroke-width="2.1"/>
<g fill="none" stroke="#0000ff" stroke-width="2.1"><rect x="1230.25" y="1020.75" width="9.7" height="9.7"/></g>
<path d="M1204.2,1062.2H1266" stroke="#000000" stroke-width="2.1"/>
<g fill="none" stroke="#000000" stroke-width="2.1"><path d="M1235.1,1056.6V1067.8M1229.5,1062.2H1240.7M1231.1,1058.2L1239.1,1066.2M1231.1,1066.2L1239.1,1058.2"/></g>
<text transform="translate(786.031,738.270) scale(0.39231,0.34478)" font-size="100" stroke="#fff" stroke-width="0.950">0.9</text>
<text transform="translate(786.031,901.000) scale(0.39231,0.34478)" font-size="100" stroke="#fff" stroke-width="0.950">0.8</text>
<text transform="translate(785.638,1063.730) scale(0.39231,0.34478)" font-size="100" stroke="#fff" stroke-width="0.950">0.7</text>
<text transform="translate(785.638,1226.460) scale(0.39231,0.34478)" font-size="100" stroke="#fff" stroke-width="0.950">0.6</text>
<text transform="translate(895.824,1250.516) scale(0.39394,0.34179)" font-size="100" stroke="#fff" stroke-width="0.951">0.02</text>
<text transform="translate(1007.862,1250.516) scale(0.38462,0.34179)" font-size="100" stroke="#fff" stroke-width="0.964">0.04</text>
<text transform="translate(1120.452,1250.516) scale(0.38690,0.34179)" font-size="100" stroke="#fff" stroke-width="0.961">0.06</text>
<text transform="translate(1232.743,1250.516) scale(0.38922,0.34179)" font-size="100" stroke="#fff" stroke-width="0.958">0.08</text>
<text transform="translate(1349.343,1250.526) scale(0.38922,0.33676)" font-size="100" stroke="#fff" stroke-width="0.964">0.10</text>
<text transform="translate(950.042,1295.977) scale(0.40831,0.33444)" font-size="100" stroke="#fff" stroke-width="0.942">Spreading</text>
<text transform="translate(1128.977,1296.000) scale(0.41147,0.33333)" font-size="100" stroke="#fff" stroke-width="0.940">probability</text>
<text transform="translate(878.491,1188.669) scale(0.40299,0.33143)" font-size="100" stroke="#fff" stroke-width="0.953">Email</text>
<text transform="translate(1326.762,736.377) scale(0.33462,0.36778)" font-size="100" stroke="#fff" stroke-width="0.997">(</text>
<text transform="translate(1361.996,736.377) scale(0.33462,0.36778)" font-size="100" stroke="#fff" stroke-width="0.997">)</text>
<text transform="translate(1339.109,735.966) scale(0.39778,0.33429)" font-size="100" stroke="#fff" stroke-width="0.956">d</text>
<text transform="translate(1273.800,924.878) scale(0.40000,0.36119)" font-size="100" stroke="#fff" stroke-width="0.920">DC</text>
<text transform="translate(1273.377,962.078) scale(0.40565,0.36119)" font-size="100" stroke="#fff" stroke-width="0.913">CC</text>
<text transform="translate(1273.800,999.678) scale(0.40000,0.36119)" font-size="100" stroke="#fff" stroke-width="0.920">BC</text>
<text transform="translate(1273.820,1035.847) scale(0.39333,0.35303)" font-size="100" stroke="#fff" stroke-width="0.938">Ks</text>
<text transform="translate(1273.423,1072.778) scale(0.39434,0.36119)" font-size="100" stroke="#fff" stroke-width="0.926">GLI</text>
<g fill="none" stroke="#000" stroke-linecap="round"><path d="M742.8,945.4L742.7,957.1Q742.8,959.9 746.2,961.5" stroke-width="1.6"/><path d="M743.4,953.3L755,956" stroke-width="1.7"/><path d="M750.3,954.8L755,956" stroke-width="2.4"/></g></svg></body></html>
